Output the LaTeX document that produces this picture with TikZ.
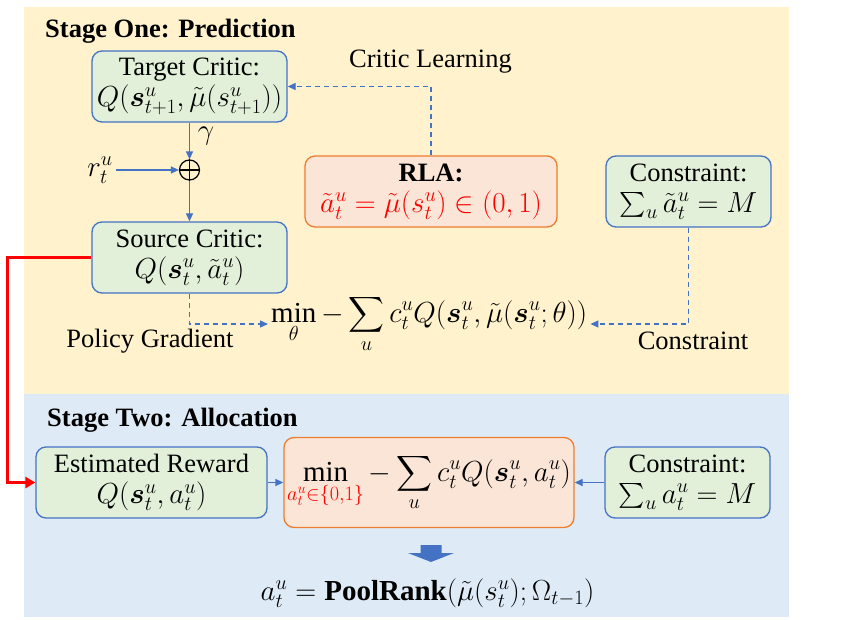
\RequirePackage{fix-cm}
\documentclass[tikz,border=0pt]{standalone}
\usepackage{amsmath}
\usepackage{bm}
\usepackage{fontspec}
\setmainfont{Liberation Serif}
\usetikzlibrary{arrows.meta}
\definecolor{ybg}{HTML}{FFF2CC}
\definecolor{bbg}{HTML}{DEEBF7}
\definecolor{gfill}{HTML}{E2F0D9}
\definecolor{ofill}{HTML}{FBE5D6}
\definecolor{oline}{HTML}{ED7D31}
\definecolor{bline}{HTML}{4472C4}
\definecolor{rline}{HTML}{FF0000}
\newcommand\mth[1]{{\fontsize{29}{31}\selectfont$#1$}}
\begin{document}
\begin{tikzpicture}[x=1pt,y=-1pt,
  every node/.style={font=\fontsize{26.5}{31}\selectfont},
  mfont/.style={font=\fontsize{29}{31}\selectfont},
  ttl/.style={anchor=base west,inner sep=0pt,font=\fontsize{26.5}{31}\selectfont\bfseries},
  gbox/.style={draw=bline,fill=gfill,rounded corners=10pt,line width=1.3pt,align=center,inner sep=0pt},
  obox/.style={draw=oline,fill=ofill,rounded corners=10pt,line width=1.3pt,align=center,inner sep=0pt},
  arr/.style={draw=bline,line width=1.3pt,-{Triangle[length=8pt,width=7pt]}},
  darr/.style={arr,dash pattern=on 5pt off 4pt},
  redarr/.style={draw=rline,line width=3pt,-{Triangle[length=10pt,width=11pt]}}]
\useasboundingbox (0,0) rectangle (842,620);
% panels
\fill[ybg] (24,7) rectangle (789,394);
\fill[bbg] (24,394) rectangle (789,617);
% ---------- Stage one
\node[ttl] (t1) at (45,38) {Stage One: Prediction};
\node[gbox,minimum width=195pt,minimum height=71pt] (tc) at (189.5,86.5)
  {Target Critic:\\ \mth{Q(\bm{s}_{t+1}^u,\tilde\mu(s_{t+1}^u))}};
\node[circle,draw,line width=1.2pt,minimum size=20pt,inner sep=0pt] (plus) at (189.5,170) {};
\draw[line width=1.2pt] (plus.north) -- (plus.south) (plus.west) -- (plus.east);
\node[mfont] (r) at (100,170) {$r_t^u$};
\node[mfont] (gam) at (206,136) {$\gamma$};
\node[gbox,minimum width=195pt,minimum height=71pt] (scr) at (189.5,257.5)
  {Source Critic:\\ \mth{Q(\bm{s}_t^u,\tilde a_t^u)}};
\node[obox,minimum width=252pt,minimum height=71pt] (rla) at (431,191.5)
  {\textbf{RLA:}\\ \textcolor{rline}{\mth{\tilde a_t^u=\tilde\mu(s_t^u)\in(0,1)}}};
\node[gbox,minimum width=165pt,minimum height=71pt] (c1) at (688.5,191.5)
  {Constraint:\\ \mth{\sum_u\tilde a_t^u=M}};
\node[mfont,anchor=west,inner sep=3pt] (m1) at (268,324)
  {$\vcenter{\hbox{$\displaystyle\min_\theta-\sum_u c_t^u Q(\bm{s}_t^u,\tilde\mu(\bm{s}_t^u;\theta))$}}$};
\node (pg) at (150,341) {Policy Gradient};
\node (cl) at (430.5,62) {Critic Learning};
\node (cn) at (693,341) {Constraint};
\draw[arr] (tc.south) -- (plus.north);
\draw[arr] (r.east |- plus.west) -- (plus.west);
\draw[arr] (plus.south) -- (scr.north);
\draw[darr] (scr.south) |- (m1.west);
\draw[darr] (c1.south) |- (m1.east);
\draw[darr] (rla.north) |- (tc.east);
% ---------- Stage two
\node[ttl] (t2) at (47,426) {Stage Two: Allocation};
\node[gbox,minimum width=231pt,minimum height=71pt] (er) at (151.5,482.5)
  {Estimated Reward\\ \mth{Q(\bm{s}_t^u,a_t^u)}};
\node[obox,mfont,minimum width=290pt,minimum height=90pt] (m2) at (429,482.5)
  {$\displaystyle\min_{\textcolor{rline}{a_t^u\in\{0,1\}}}-\sum_u c_t^u Q(\bm{s}_t^u,a_t^u)$};
\node[gbox,minimum width=165pt,minimum height=71pt] (c2) at (687.5,482.5)
  {Constraint:\\ \mth{\sum_u a_t^u=M}};
\draw[arr] (er.east) -- (m2.west);
\draw[arr] (c2.west) -- (m2.east);
\coordinate (rc) at (7,257.5);
\draw[redarr] (scr.west) -- (rc) |- (er.west);
% block arrow
\fill[bline] (420.5,545) -- (441.5,545) -- (441.5,553) -- (454,553) -- (431,562)
  -- (408,553) -- (420.5,553) -- cycle;
\node[mfont,anchor=base] (pr) at (427.5,600)
  {$a_t^u=\mathbf{PoolRank}(\tilde\mu(s_t^u);\Omega_{t-1})$};
\end{tikzpicture}
\end{document}
